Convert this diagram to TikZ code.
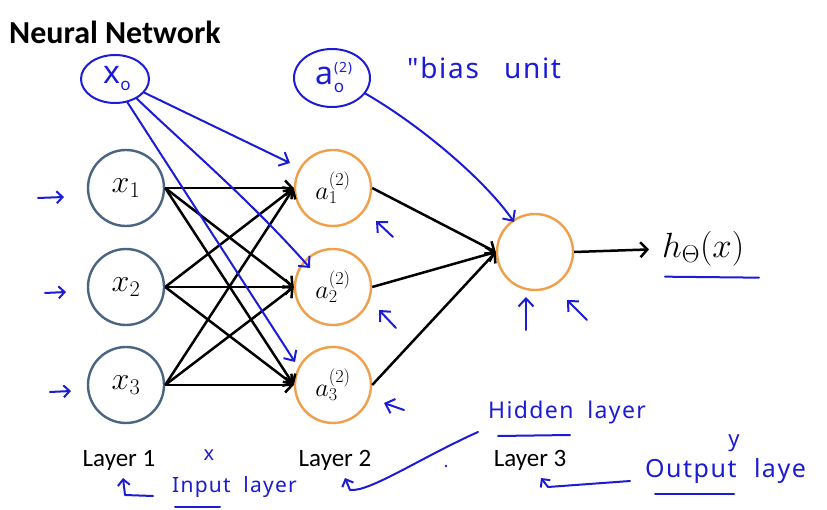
\RequirePackage{fix-cm}
\documentclass[tikz,border=0pt]{standalone}
\usepackage{fontspec}
\setsansfont{Carlito}
\newfontfamily\hand[LetterSpace=6]{Noto Sans}
\usetikzlibrary{arrows.meta,shapes.geometric}
\definecolor{inpc}{HTML}{4A6482}
\definecolor{hidc}{HTML}{F0A04B}
\definecolor{ink}{HTML}{1C1CD6}
\begin{document}
\begin{tikzpicture}[x=1pt,y=-1pt,
  inpnode/.style={circle,draw=inpc,line width=2.4pt,minimum size=76pt,inner sep=0pt,font=\fontsize{32}{38}\selectfont},
  hidnode/.style={circle,draw=hidc,line width=2.4pt,minimum size=76pt,inner sep=0pt,font=\fontsize{26}{30}\selectfont},
  conn/.style={line width=2.5pt,-{Straight Barb[length=7pt,width=15pt]}},
  inkline/.style={draw=ink,line width=2pt,line cap=round,line join=round},
  inkarrow/.style={inkline,-{Straight Barb[length=6pt,width=12pt]}},
  bigtip/.style={inkline,-{Straight Barb[length=8pt,width=15pt]}},
  handtext/.style={text=ink,font=\hand\fontsize{24}{28}\selectfont,inner sep=0pt},
  layerlab/.style={font=\sffamily\fontsize{25}{30}\selectfont,inner sep=0pt},
  inkell/.style={ellipse,draw=ink,line width=2pt,inner sep=0pt,text=ink}
]
\useasboundingbox[fill=white] (0,0) rectangle (827,510);

% title
\node[anchor=west,inner sep=0pt,font=\sffamily\bfseries\fontsize{32}{36}\selectfont] (title) at (9,32) {Neural Network};

% network nodes
\node[inpnode] (x1) at (126,188) {$x_1$};
\node[inpnode] (x2) at (126,287) {$x_2$};
\node[inpnode] (x3) at (126,385) {$x_3$};
\node[hidnode] (a1) at (333,188) {$a_1^{(2)}$};
\node[hidnode] (a2) at (333,287) {$a_2^{(2)}$};
\node[hidnode] (a3) at (333,385) {$a_3^{(2)}$};
\node[hidnode] (out) at (535,252) {};
\node[anchor=west,inner sep=0pt,font=\fontsize{35}{40}\selectfont] (h) at (662,249) {$h_\Theta(x)$};

\foreach \i in {1,2,3}{
  \foreach \j in {1,2,3}{
    \draw[conn] (x\i.east) -- (a\j.west);
  }
  \draw[conn] (a\i.east) -- (out.west);
}
\draw[conn,shorten >=13pt] (out.east) -- (h.west);

% layer labels
\node[layerlab] (L1) at (119,460) {Layer 1};
\node[layerlab] (L2) at (335,460) {Layer 2};
\node[layerlab] (L3) at (530,460) {Layer 3};

% bias units (handwritten)
\node[inkell,minimum width=68pt,minimum height=48pt] (x0) at (115,79)
  {\hspace{4pt}\hand\fontsize{32}{32}\selectfont x\raisebox{-7pt}{\fontsize{17}{17}\selectfont o}};
\node[inkell,minimum width=76pt,minimum height=58pt] (a0) at (332,78)
  {\hspace{4pt}\hand\fontsize{32}{32}\selectfont a\raisebox{-8pt}{\fontsize{17}{17}\selectfont o}\hspace{-10pt}\raisebox{12pt}{\fontsize{14}{14}\selectfont (2)}};
\node[handtext,anchor=west] (bias) at (407,68) {\fontsize{28}{30}\selectfont "bias\hspace{0.9em}unit};

\coordinate (t1) at (290,163);
\coordinate (t2) at (310,268);
\coordinate (t3) at (295,362);
\coordinate (t4) at (514,222);
\draw[bigtip] (x0.-25) -- (t1);
\draw[bigtip] (x0.-42) .. controls (185,145) and (250,200) .. (t2);
\draw[bigtip] (x0.-62) -- (t3);
\draw[bigtip] (a0.-25) .. controls (420,125) and (485,180) .. (t4);

% small input arrows
\coordinate (s1) at (38,198); \coordinate (e1) at (64,197);
\coordinate (s2) at (45,293); \coordinate (e2) at (66,292);
\coordinate (s3) at (50,392); \coordinate (e3) at (71,391);
\draw[inkarrow] (s1) -- (e1);
\draw[inkarrow] (s2) -- (e2);
\draw[inkarrow] (s3) -- (e3);

% small arrows at hidden / output units
\coordinate (p1) at (393,237); \coordinate (q1) at (376,221);
\coordinate (p2) at (396,328); \coordinate (q2) at (379,310);
\coordinate (p3) at (404,410); \coordinate (q3) at (384,403);
\coordinate (p4) at (526,330); \coordinate (q4) at (526,297);
\coordinate (p5) at (587,320); \coordinate (q5) at (567,300);
\draw[bigtip] (p1) -- (q1);
\draw[bigtip] (p2) -- (q2);
\draw[bigtip] (p3) -- (q3);
\draw[bigtip] (p4) -- (q4);
\draw[bigtip] (p5) -- (q5);

% output underline
\draw[inkline] (h.south west) ++(3,10) coordinate (hu1) -- ++(94,1) coordinate (hu2);

% bottom annotations
\node[handtext,font=\hand\fontsize{20}{22}\selectfont] (cross) at (209,455) {x};
\node[handtext,anchor=west] (inp) at (172,487) {\fontsize{21}{24}\selectfont Input\hspace{0.6em}layer};
\draw[inkline] (175,507) -- (220,507);
\coordinate (b1) at (153,496); \coordinate (b1t) at (123,478);
\draw[inkarrow] (b1) -- (125,495) -- (b1t);

\node[handtext,anchor=west] (hid) at (488,413) {\fontsize{23}{26}\selectfont Hidden\hspace{0.6em}layer};
\draw[inkline] (498,436) -- (570,435);
\coordinate (b2) at (478,432); \coordinate (b2t) at (345,478);
\draw[inkarrow] (b2) .. controls (420,458) and (370,492) .. (350,490) -- (b2t);
\fill[ink] (446,466) circle (1.3pt);

\node[handtext,anchor=west] (outl) at (645,471) {\fontsize{25}{28}\selectfont Output\hspace{0.7em}laye};
\draw[inkline] (655,494) -- (734,494);
\node[handtext,font=\hand\fontsize{22}{24}\selectfont] (ylab) at (734,443) {y};
\coordinate (b3) at (630,481); \coordinate (b3t) at (541,478);
\draw[inkarrow] (b3) -- (548,487) -- (b3t);
\end{tikzpicture}
\end{document}
